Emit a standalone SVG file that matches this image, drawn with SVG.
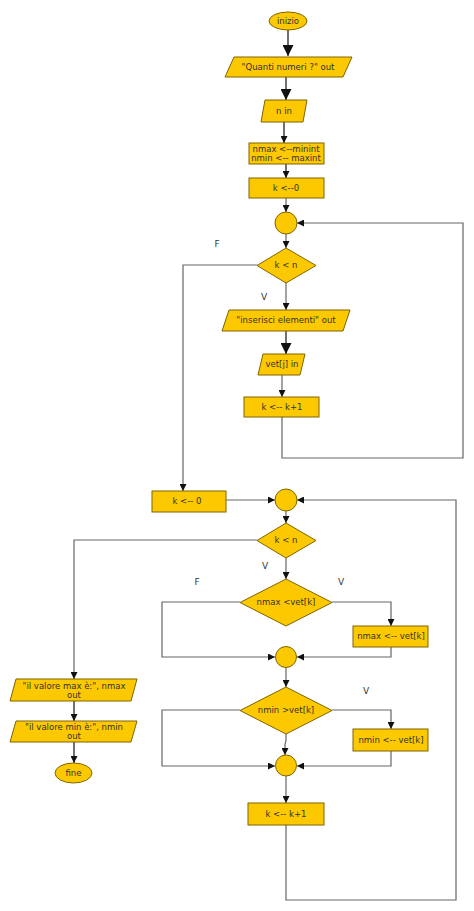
<svg xmlns="http://www.w3.org/2000/svg" width="474" height="911" viewBox="0 0 474 911">
<style>
.n{fill:#fcc800;stroke:#806400;stroke-width:1}
.t{font-family:"DejaVu Sans",sans-serif;font-size:8.5px;fill:#333;text-anchor:middle;dominant-baseline:central}
.l{font-family:"DejaVu Sans",sans-serif;font-size:9px;fill:#333;text-anchor:middle;dominant-baseline:central}
.c{fill:none;stroke:#666;stroke-width:1.2}
.c2{fill:none;stroke:#111;stroke-width:1.2}
</style>
<defs>
<marker id="a" viewBox="0 0 10 10" refX="10" refY="5" markerWidth="7" markerHeight="7" markerUnits="userSpaceOnUse" orient="auto"><path d="M0,0L10,5L0,10z" fill="#111"/></marker>
<marker id="b" viewBox="0 0 10 10" refX="10" refY="5" markerWidth="11" markerHeight="11" markerUnits="userSpaceOnUse" orient="auto"><path d="M0,0L10,5L0,10z" fill="#111"/></marker>
</defs>
<rect width="474" height="911" fill="#fff"/>
<g id="connectors">
<path class="c2" d="M288,30V56" marker-end="url(#b)"/>
<path class="c2" d="M286,77V100" marker-end="url(#b)"/>
<path class="c2" d="M284,122V143" marker-end="url(#a)"/>
<path class="c2" d="M286,164V178" marker-end="url(#a)"/>
<path class="c" d="M286,198V212" marker-end="url(#a)"/>
<path class="c" d="M286,234V248" marker-end="url(#a)"/>
<path class="c" d="M257,265H183V491" marker-end="url(#a)"/>
<path class="c" d="M286,283V310" marker-end="url(#a)"/>
<path class="c2" d="M286,331V354" marker-end="url(#b)"/>
<path class="c" d="M282,375V397" marker-end="url(#a)"/>
<path class="c" d="M282,417V458H463V223H297" marker-end="url(#a)"/>
<path class="c" d="M226,500H275" marker-end="url(#a)"/>
<path class="c" d="M286,511V523" marker-end="url(#a)"/>
<path class="c" d="M257,540H74V679" marker-end="url(#a)"/>
<path class="c" d="M286,558V579" marker-end="url(#a)"/>
<path class="c" d="M240,602H162V657H275" marker-end="url(#a)"/>
<path class="c" d="M332,602H391V626" marker-end="url(#a)"/>
<path class="c" d="M391,647V657H297" marker-end="url(#a)"/>
<path class="c" d="M286,668V687" marker-end="url(#a)"/>
<path class="c" d="M240,710H162V766H275" marker-end="url(#a)"/>
<path class="c" d="M332,710H391V729" marker-end="url(#a)"/>
<path class="c" d="M391,751V766H297" marker-end="url(#a)"/>
<path class="c" d="M286,734V741L285,744V755" marker-end="url(#a)"/>
<path class="c" d="M286,776V803" marker-end="url(#a)"/>
<path class="c" d="M286,825V900H456V500H297" marker-end="url(#a)"/>
<path class="c2" d="M74,701V721" marker-end="url(#a)"/>
<path class="c2" d="M74,742V763" marker-end="url(#a)"/>
</g>
<g id="inizio"><ellipse class="n" cx="288" cy="21" rx="19" ry="9"/><text class="t" x="288" y="21">inizio</text></g>
<g id="quanti"><path class="n" d="M234,57H352L343,77H225Z"/><text class="t" x="288" y="67">"Quanti numeri ?" out</text></g>
<g id="nin"><path class="n" d="M265,100H307L303,122H261Z"/><text class="t" x="284" y="111">n in</text></g>
<g id="init"><rect class="n" x="249" y="143" width="75" height="21"/><text class="t" x="286" y="149">nmax &lt;--minint</text><text class="t" x="286" y="158">nmin &lt;-- maxint</text></g>
<g id="k0"><rect class="n" x="249" y="178" width="75" height="20"/><text class="t" x="286" y="188">k &lt;--0</text></g>
<g id="j1"><circle class="n" cx="286" cy="223" r="11"/></g>
<g id="d1"><path class="n" d="M286,248L316,265.5L286,283L257,265.5Z"/><text class="t" x="286" y="265">k &lt; n</text></g>
<g id="ins"><path class="n" d="M229,310H350L343,331H222Z"/><text class="t" x="286" y="320">"inserisci elementi" out</text></g>
<g id="vet"><path class="n" d="M263,354H305L300,375H258Z"/><text class="t" x="282" y="364">vet[j] in</text></g>
<g id="inc1"><rect class="n" x="244" y="397" width="75" height="20"/><text class="t" x="282" y="407">k &lt;-- k+1</text></g>
<g id="k0b"><rect class="n" x="152" y="491" width="74" height="21"/><text class="t" x="187" y="501">k &lt;-- 0</text></g>
<g id="j2"><circle class="n" cx="286" cy="500" r="11"/></g>
<g id="d2"><path class="n" d="M286,523L316,540.5L286,558L257,540.5Z"/><text class="t" x="286" y="540">k &lt; n</text></g>
<g id="d3"><path class="n" d="M286,579L332,602.5L286,626L240,602.5Z"/><text class="t" x="286" y="602">nmax &lt;vet[k]</text></g>
<g id="smax"><rect class="n" x="353" y="626" width="75" height="21"/><text class="t" x="391" y="636">nmax &lt;-- vet[k]</text></g>
<g id="j3"><circle class="n" cx="286" cy="657" r="10.5"/></g>
<g id="d4"><path class="n" d="M286,687L332,710.5L286,734L240,710.5Z"/><text class="t" x="286" y="710">nmin &gt;vet[k]</text></g>
<g id="smin"><rect class="n" x="353" y="729" width="75" height="22"/><text class="t" x="391" y="740">nmin &lt;-- vet[k]</text></g>
<g id="j4"><circle class="n" cx="286" cy="765.5" r="10.5"/></g>
<g id="inc2"><rect class="n" x="248" y="803" width="76" height="22"/><text class="t" x="286" y="814">k &lt;-- k+1</text></g>
<g id="omax"><path class="n" d="M16,679H137L131,701H10Z"/><text class="t" x="74" y="686">"il valore max è:", nmax</text><text class="t" x="74" y="695">out</text></g>
<g id="omin"><path class="n" d="M16,721H137L131,742H10Z"/><text class="t" x="74" y="727">"il valore min  è:", nmin</text><text class="t" x="74" y="736">out</text></g>
<g id="fine"><ellipse class="n" cx="73.5" cy="773" rx="18.5" ry="10"/><text class="t" x="73.5" y="773">fine</text></g>
<g id="labels">
<text class="l" x="217" y="244">F</text>
<text class="l" x="264" y="297">V</text>
<text class="l" x="265" y="566">V</text>
<text class="l" x="197" y="582">F</text>
<text class="l" x="341" y="582">V</text>
<text class="l" x="366" y="691">V</text>
</g>
</svg>
